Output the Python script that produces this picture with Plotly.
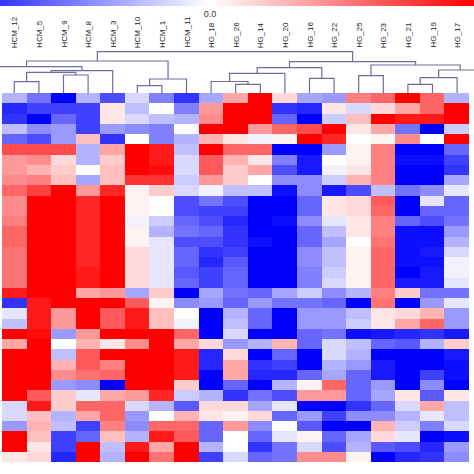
import plotly.graph_objects as go

# sample order (columns after clustering)
samples = ["HCM_12", "HCM_5", "HCM_9", "HCM_8", "HCM_3", "HCM_10", "HCM_1", "HCM_11",
           "HG_18", "HG_26", "HG_14", "HG_20", "HG_16", "HG_22", "HG_25", "HG_23",
           "HG_21", "HG_19", "HG_17"]

# scaled expression values, one list per row (top to bottom)
expr = [
    [-0.3, -0.55, -1.0, -0.3, -0.7, -0.15, -0.5, -0.8, -0.35, 0.35, 1.0, 0.15, -0.35, -0.4, 0.5, 0.6, 1.0, 0.6, -0.3],
    [-0.85, -0.75, -0.75, -0.75, 0.1, -0.25, 0.0, -0.5, 0.4, 1.0, 1.0, -0.8, -0.85, 0.1, -0.15, 0.15, 0.35, 0.6, 1.0],
    [-0.8, -1.0, -0.6, -0.75, 0.1, -0.15, -0.25, -0.3, 0.45, 1.0, 1.0, -0.6, -1.0, -0.2, 0.25, 1.0, 0.9, 0.9, 1.0],
    [-0.25, -0.45, -0.4, -0.75, -0.4, -0.45, -0.5, 0.0, 1.0, 1.0, 0.4, 0.6, 0.7, 1.0, 0.1, 0.35, -0.55, -1.0, -0.2],
    [-0.6, -0.7, -0.4, 0.25, -0.8, 0.0, -0.5, -0.3, 0.3, 0.1, -0.05, 0.05, 1.0, 0.85, 0.0, 0.05, 0.45, 0.0, 1.0],
    [0.7, 0.7, 0.7, -0.3, 0.35, 1.0, 0.9, -0.25, 1.0, 0.6, 0.6, -1.0, -1.0, -0.4, 0.05, 0.5, -1.0, -1.0, -0.6],
    [0.4, 0.45, 0.15, -0.3, 0.2, 1.0, 0.9, -0.15, 0.65, 0.3, 0.1, -0.5, -0.9, 0.0, 0.05, 0.5, -0.95, -0.95, -0.75],
    [0.4, 0.3, 0.2, 0.0, 0.25, 1.0, 0.95, -0.15, 0.65, 0.2, 0.35, -0.7, -0.9, -0.05, 0.1, 0.5, -1.0, -1.0, -0.8],
    [0.45, 0.5, 0.25, -0.35, 0.25, 0.8, 0.8, -0.2, 0.4, 0.2, 0.0, -0.45, -0.45, -0.2, 0.3, 0.5, -1.0, -1.0, -0.35],
    [0.6, 0.75, 1.0, 0.4, 0.85, 0.05, 0.2, -0.15, -0.05, -0.25, -0.25, -0.95, -0.45, -0.9, -0.7, -0.25, -0.55, -0.45, -0.1],
    [0.45, 1.0, 1.0, 0.85, 1.0, 0.05, 0.0, -0.7, -0.55, -0.7, -1.0, -1.0, -0.6, 0.1, 0.15, 0.65, -1.0, -0.1, -0.6],
    [0.45, 1.0, 1.0, 0.85, 1.0, 0.05, 0.0, -0.7, -0.75, -0.75, -1.0, -1.0, -0.6, 0.1, 0.15, 0.6, -1.0, -0.6, -0.6],
    [0.5, 1.0, 1.0, 0.85, 1.0, -0.05, -0.2, -0.6, -0.7, -0.85, -1.0, -0.95, -0.45, -0.1, 0.1, 0.5, -0.6, -0.7, -0.55],
    [0.6, 1.0, 1.0, 0.85, 1.0, 0.05, -0.3, -0.55, -0.6, -0.8, -1.0, -1.0, -0.6, -0.25, 0.1, 0.5, -0.95, -0.95, -0.4],
    [0.6, 1.0, 1.0, 0.85, 1.0, 0.05, -0.1, -0.7, -0.7, -0.8, -0.95, -1.0, -0.6, -0.35, 0.0, 0.55, -0.95, -0.95, -0.3],
    [0.55, 1.0, 1.0, 0.85, 1.0, 0.15, -0.1, -0.6, -0.8, -0.75, -1.0, -1.0, -0.45, -0.25, 0.05, 0.6, -0.95, -0.9, -0.15],
    [0.55, 1.0, 1.0, 0.85, 1.0, 0.15, -0.1, -0.6, -0.85, -0.65, -1.0, -1.0, -0.45, -0.25, 0.05, 0.6, -0.95, -0.95, -0.05],
    [0.55, 1.0, 1.0, 0.9, 1.0, 0.15, -0.1, -0.65, -0.75, -0.6, -1.0, -1.0, -0.5, -0.2, 0.05, 0.6, -1.0, -0.9, -0.05],
    [0.55, 1.0, 1.0, 0.9, 1.0, 0.15, -0.1, -0.6, -0.75, -0.6, -1.0, -1.0, -0.5, -0.15, 0.05, 0.6, -0.9, -0.9, -0.1],
    [0.9, 1.0, 1.0, 0.35, 0.4, -0.35, 0.2, -1.0, -0.35, -0.55, -0.6, -0.35, -0.2, -0.45, -0.3, 0.5, 0.2, -0.55, -0.55],
    [-0.8, 0.9, 1.0, 1.0, 1.0, 0.65, 0.05, -0.45, -0.4, -0.6, -0.4, -0.55, -0.55, -0.6, -1.0, 0.55, -1.0, -0.4, -0.1],
    [-0.1, 0.9, 0.4, 1.0, 0.65, 0.9, 0.25, 0.0, -1.0, -0.3, -0.6, -1.0, -0.4, -0.4, -0.25, 0.1, 0.15, 0.3, -0.4],
    [-0.25, 0.9, 0.4, 1.0, 0.65, 0.9, 0.25, -0.05, -1.0, -0.25, -0.6, -1.0, -0.4, -0.4, -0.2, 0.1, 0.35, 0.6, -0.4],
    [1.0, 0.95, -0.4, 0.4, 1.0, 1.0, 1.0, 0.6, -1.0, -0.15, -1.0, -1.0, -0.6, -0.55, -0.95, -0.9, -0.85, -0.8, -0.9],
    [0.35, 1.0, 0.0, 0.3, 0.1, 0.45, 1.0, 0.35, 0.15, -0.4, -0.3, 0.3, -0.6, -0.15, -0.25, -0.6, -0.65, -0.3, 0.2],
    [1.0, 1.0, -0.25, 0.65, 1.0, 1.0, 1.0, 0.9, -0.85, 0.15, -1.0, -0.6, -1.0, -0.15, -0.3, -1.0, -1.0, -1.0, -0.9],
    [1.0, 1.0, 0.3, 0.65, 0.5, 1.0, 1.0, 0.9, -0.85, 0.35, -0.8, -0.75, -1.0, -0.3, -0.4, -0.9, -1.0, -1.0, -0.95],
    [1.0, 1.0, 0.45, 0.55, 0.6, 1.0, 1.0, 0.9, -1.0, 0.35, -0.85, -0.85, -0.6, -0.35, -0.6, -0.9, -1.0, -0.75, -0.95],
    [1.0, 1.0, -0.4, -0.45, -1.0, 1.0, 1.0, 0.2, -1.0, -0.6, -1.0, -0.3, 0.05, 0.6, -0.6, -0.4, -1.0, -0.45, -1.0],
    [1.0, 0.65, 0.2, -0.1, 0.35, 0.4, 0.85, -0.2, -0.3, -0.8, -0.55, -0.7, 0.4, 0.4, -0.6, -0.35, 0.1, -0.65, 0.1],
    [-0.15, 0.9, 0.2, 0.6, 0.6, -0.15, -0.3, -0.65, 0.15, 0.15, -0.35, -0.1, -1.0, -1.0, -0.8, -0.6, -0.15, 0.35, -0.25],
    [-0.15, 0.25, -0.3, 0.35, 0.6, -0.4, 0.0, 0.3, 0.1, 0.05, 0.15, -0.6, -0.4, -0.75, -0.45, -0.45, -0.3, -0.1, -0.25],
    [-0.4, 0.3, -0.25, -0.75, 0.5, -0.45, 0.6, 0.6, -0.6, 0.4, -0.45, 0.0, -0.65, -1.0, -1.0, 0.3, -0.2, -0.5, -0.15],
    [1.0, 0.25, -0.75, -0.6, 0.25, -0.3, 0.9, 0.65, -0.6, 0.0, -0.6, -0.1, 0.05, -0.6, -0.35, 0.15, -0.1, -1.0, -0.95],
    [1.0, 0.1, -0.75, 1.0, -0.25, 0.9, 0.35, 1.0, -0.3, 0.0, -0.8, -0.55, -0.15, -0.7, -0.3, -0.65, -0.7, -0.85, -0.4],
    [0.1, 0.15, -0.85, 1.0, -0.3, 1.0, 0.55, 1.0, -0.75, -0.15, -0.6, -0.55, 0.45, 0.45, 0.05, -1.0, -0.85, -0.8, -0.45],
]

# column dendrogram: (node, left child, right child, height)
# ints are leaf columns; -3..-1 and 19 are samples cropped out of the view
merges = [
    ("a", 0, 1, 11.3), ("b", 2, 3, 18.0), ("c", "a", "b", 20.7), ("d", "c", 4, 22.3),
    ("h1", -3, -2, 8.0), ("h2", "h1", -1, 15.0), ("e", "h2", "d", 26.3),
    ("f", 5, 6, 7.3), ("g", "f", 7, 14.0), ("hcm", "e", "g", 32.0),
    ("i", 9, 10, 8.7), ("j", 8, "i", 11.5), ("k", "j", 11, 19.7), ("l", 12, 13, 14.7),
    ("m", "k", "l", 25.3), ("n", 14, 15, 17.3), ("o", 16, 17, 8.7), ("p", "o", 18, 15.3),
    ("q", "p", 19, 23.0), ("r", "n", "q", 28.0), ("hg", "m", "r", 31.3),
    ("root", "hcm", "hg", 41.3),
]

blue_white_red = [[0.0, "#0000ff"], [0.5, "#ffffff"], [1.0, "#ff0000"]]

fig = go.Figure()

fig.add_trace(go.Heatmap(
    z=expr,
    x=list(range(len(samples))),
    y=list(range(len(expr))),
    colorscale=blue_white_red,
    zmin=-1, zmax=1,
    xaxis="x", yaxis="y",
    colorbar=dict(
        orientation="h", x=210 / 474, xanchor="center", y=1, yanchor="top",
        len=528, lenmode="pixels", thickness=6, xpad=0, ypad=0,
        outlinewidth=0, tickvals=[0], ticktext=["0.0"], ticks="",
        tickfont=dict(family="Liberation Sans", size=9, color="#333333"),
    ),
))

# build dendrogram segments
pos = {}
hgt = {}
xs, ys = [], []
def where(n):
    if isinstance(n, int):
        return float(n), 0.0
    return pos[n], hgt[n]

for name, left, right, h in merges:
    lx, lh = where(left)
    rx, rh = where(right)
    xs += [lx, lx, rx, rx, None]
    ys += [lh, h, h, rh, None]
    pos[name] = (lx + rx) / 2
    hgt[name] = h

fig.add_trace(go.Scatter(
    x=xs, y=ys, mode="lines", xaxis="x", yaxis="y2",
    line=dict(color="#6e6e9e", width=1.2), hoverinfo="skip", showlegend=False,
))

for i, s in enumerate(samples):
    fig.add_annotation(
        x=i, xref="x", y=(474 - 50) / 474, yref="paper",
        text=s, textangle=-90, showarrow=False,
        xanchor="center", yanchor="bottom",
        font=dict(family="Liberation Sans", size=8, color="#222222"),
    )

fig.update_layout(
    width=474, height=474,
    margin=dict(l=0, r=0, t=0, b=0, autoexpand=False),
    paper_bgcolor="white", plot_bgcolor="white",
    xaxis=dict(domain=[0, 1], range=[-0.5 - 2 / 24.6, 18.5 + 4.6 / 24.6],
               visible=False, showgrid=False, zeroline=False),
    yaxis=dict(domain=[12 / 474, 381 / 474], range=[35.5, -0.5],
               visible=False, showgrid=False, zeroline=False),
    yaxis2=dict(domain=[381 / 474, 1], range=[0, 93], anchor="x",
                visible=False, showgrid=False, zeroline=False),
)

# drop the page's default 8px body margin so the figure sits at the window corner
fig.write_html("out.html", config={"displayModeBar": False},
               post_script="document.body.style.margin='0';")
